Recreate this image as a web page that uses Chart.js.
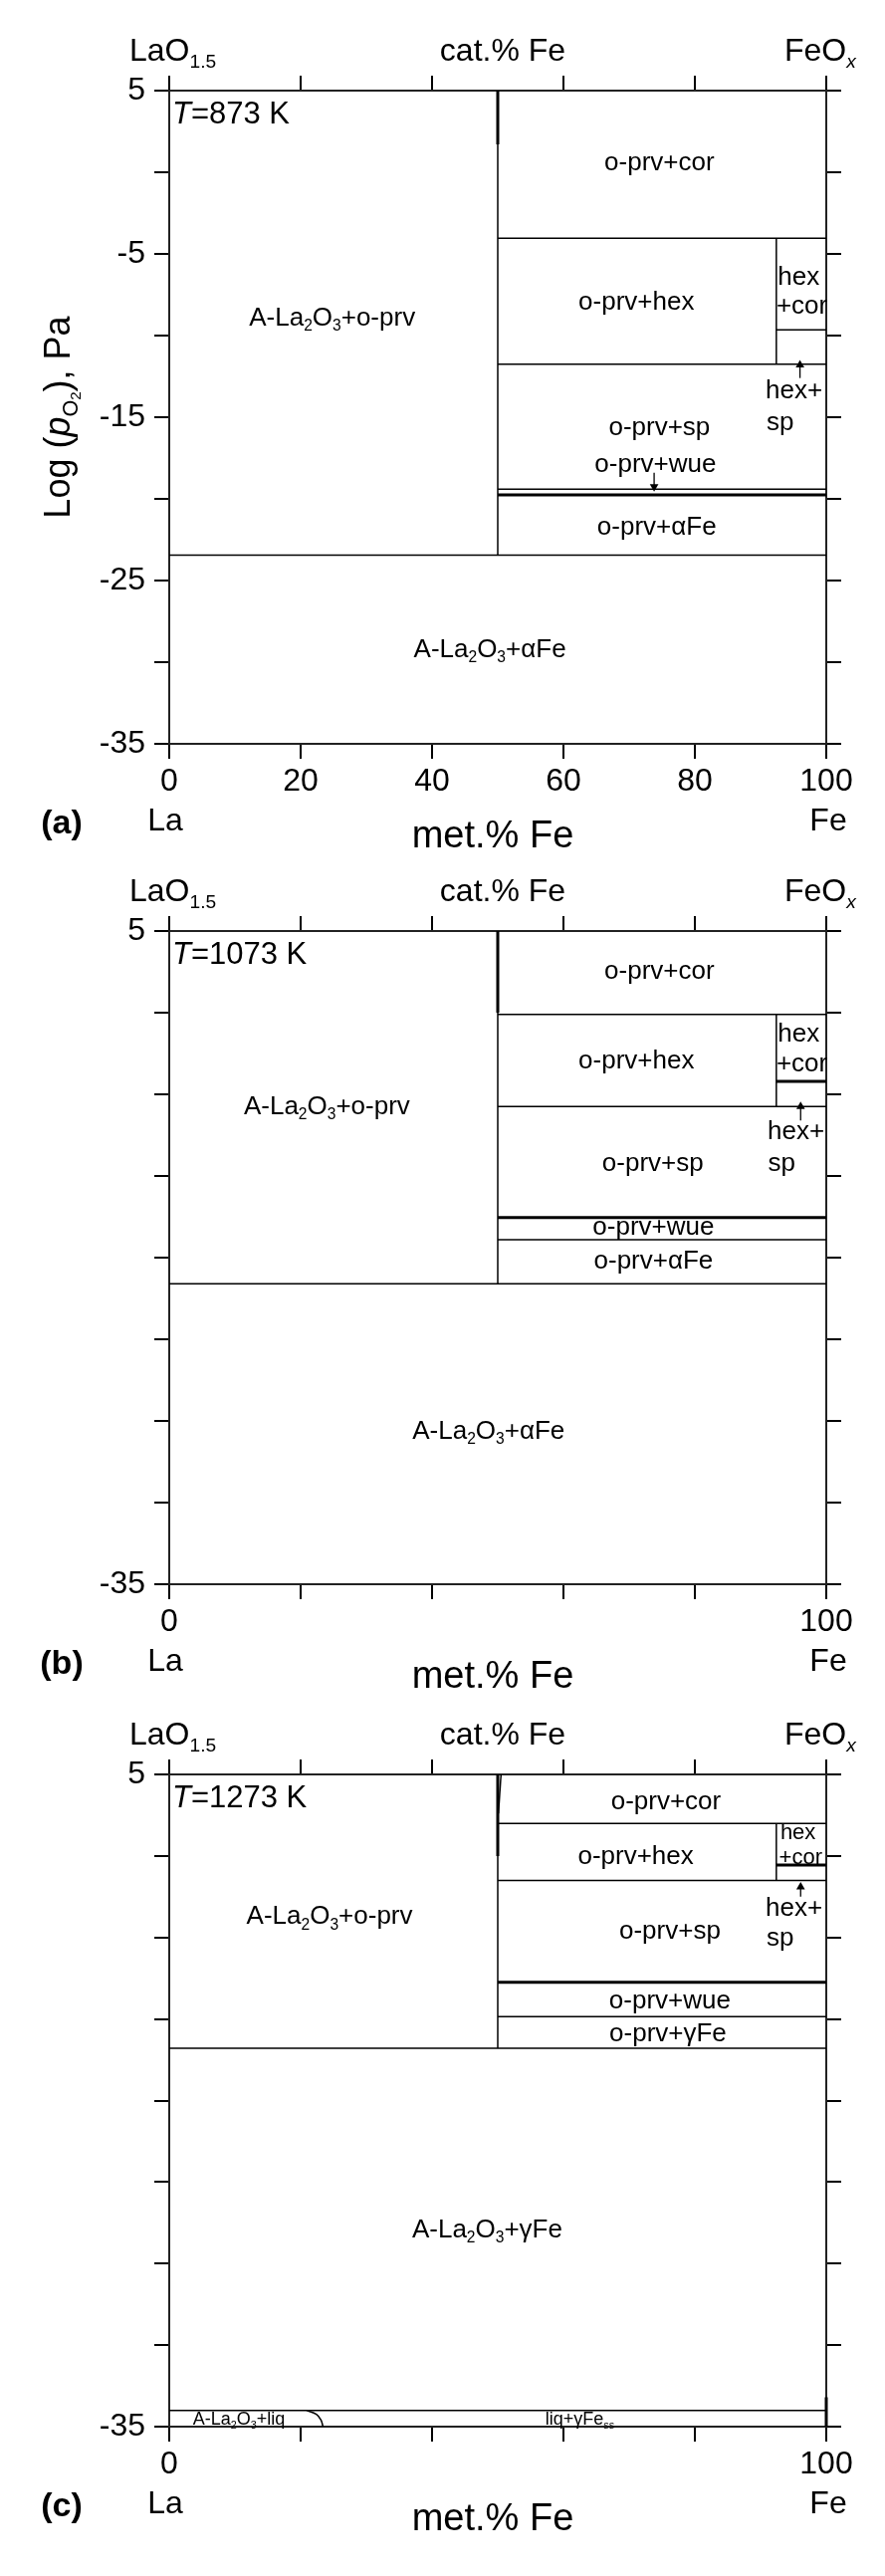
<!DOCTYPE html>
<html lang="en">
<head>
<meta charset="UTF-8">
<title>La-Fe-O isothermal phase diagrams</title>
<script src="https://cdn.jsdelivr.net/npm/chart.js"></script>
<style>
  html, body { margin: 0; padding: 0; background: #fff; }
  body { width: 889px; height: 2587px; position: relative; overflow: hidden; }
  canvas { position: absolute; left: 0; }
</style>
</head>
<body>
<canvas id="chartA" width="889" height="862" style="top:0px"></canvas>
<canvas id="chartB" width="889" height="846" style="top:862px"></canvas>
<canvas id="chartC" width="889" height="879" style="top:1708px"></canvas>
<script>
// axes
const xTicks = [0, 20, 40, 60, 80, 100];
const yTicks = [5, 0, -5, -10, -15, -20, -25, -30, -35];
const xLabeledA = [0, 20, 40, 60, 80, 100];
const xLabeledBC = [0, 100];
const yLabeledA = [5, -5, -15, -25, -35];
const yLabeledBC = [5, -35];
const temps = ['873', '1073', '1273'];

// phase boundaries, [met.% Fe, log pO2] pairs
const thinA = [
  [[50, 5], [50, -23.45]],
  [[50, -4.04], [100, -4.04]],
  [[92.4, -4.04], [92.4, -11.75]],
  [[92.4, -9.65], [100, -9.65]],
  [[50, -11.75], [100, -11.75]],
  [[50, -19.4], [100, -19.4]],
  [[0, -23.45], [100, -23.45]]
];
const thickA = [
  [[50, 5], [50, 1.7]],
  [[50, -19.75], [100, -19.75]]
];
const arrowsA = [[96, -12.6, -11.5], [73.8, -18.4, -19.55]];

const thinB = [
  [[50, 5], [50, -16.6]],
  [[50, -0.1], [100, -0.1]],
  [[92.4, -0.1], [92.4, -5.75]],
  [[50, -5.75], [100, -5.75]],
  [[50, -13.9], [100, -13.9]],
  [[0, -16.6], [100, -16.6]]
];
const thickB = [
  [[50, 5], [50, 0]],
  [[92.4, -4.2], [100, -4.2]],
  [[50, -12.55], [100, -12.55]]
];
const arrowsB = [[96.1, -6.6, -5.45]];

const thinC = [
  [[50, 5], [50, -11.8]],
  [[50.5, 5], [50.1, 2.6]],
  [[50, 2.0], [100, 2.0]],
  [[92.4, 2.0], [92.4, -1.5]],
  [[50, -1.5], [100, -1.5]],
  [[50, -9.85], [100, -9.85]],
  [[0, -11.8], [100, -11.8]],
  [[0, -34], [100, -34]]
];
const thickC = [
  [[50, 5], [50, 0]],
  [[92.4, -0.55], [100, -0.55]],
  [[50, -7.75], [100, -7.75]],
  [[100, -33.2], [100, -35]]
];
const curveC = [[20.9, -34], [22.4, -34.25], [23.1, -34.6], [23.4, -35]];
const arrowsC = [[96.1, -2.5, -1.6]];

// field names [text, met.% Fe, log pO2]
const fieldsA = [
  ['A-La_2O_3+o-prv', 24.8, -8.8],
  ['o-prv+cor', 74.6, 0.67],
  ['o-prv+hex', 71.1, -7.87],
  ['hex', 95.8, -6.3],
  ['+cor', 96.3, -8.07],
  ['hex+', 95.1, -13.25],
  ['sp', 93, -15.2],
  ['o-prv+sp', 74.6, -15.5],
  ['o-prv+wue', 74, -17.8],
  ['o-prv+αFe', 74.2, -21.6],
  ['A-La_2O_3+αFe', 48.8, -29.1]
];
const fieldsB = [
  ['A-La_2O_3+o-prv', 24, -5.63],
  ['o-prv+cor', 74.6, 2.66],
  ['o-prv+hex', 71.1, -2.82],
  ['hex', 95.8, -1.2],
  ['+cor', 96.3, -3.03],
  ['hex+', 95.4, -7.2],
  ['sp', 93.2, -9.1],
  ['o-prv+sp', 73.6, -9.13],
  ['o-prv+wue', 73.7, -13.03],
  ['o-prv+αFe', 73.7, -15.1],
  ['A-La_2O_3+αFe', 48.6, -25.5]
];
const fieldsC = [
  ['A-La_2O_3+o-prv', 24.4, -3.6],
  ['o-prv+cor', 75.6, 3.44],
  ['o-prv+hex', 71, 0.09],
  ['hex+', 95.1, -3.1],
  ['sp', 93, -4.95],
  ['o-prv+sp', 76.2, -4.5],
  ['o-prv+wue', 76.2, -8.75],
  ['o-prv+γFe', 75.9, -10.78],
  ['A-La_2O_3+γFe', 48.4, -22.8]
];
const smallFieldsC = [
  ['hex', 95.7, 1.49, 22],
  ['+cor', 96.1, -0.02, 22],
  ['A-La_2O_3+liq', 10.6, -34.5, 18],
  ['liq+γFe_{ss}', 62.5, -34.5, 18]
];

const FONT = '"Liberation Sans", Arial, Helvetica, sans-serif';
Chart.defaults.font.family = FONT;
Chart.defaults.color = '#000';

// tiny markup: _x or _{..} = subscript, *..* = italic
function parseRich(s) {
  const out = [];
  let it = false, i = 0;
  const push = (t, sub, ital) => {
    const last = out[out.length - 1];
    if (last && last.sub === sub && last.it === ital) last.t += t;
    else out.push({ t, sub, it: ital });
  };
  while (i < s.length) {
    const c = s[i];
    if (c === '*') { it = !it; i++; continue; }
    if (c === '_') {
      let t;
      if (s[i + 1] === '{') { const j = s.indexOf('}', i); t = s.slice(i + 2, j); i = j + 1; }
      else { t = s[i + 1]; i += 2; }
      let sit = it;
      for (const ch of t) { if (ch === '*') { sit = !sit; continue; } push(ch, true, sit); }
      continue;
    }
    push(c, false, it);
    i++;
  }
  return out.map(p => ({ t: p.t, it: p.it, scale: p.sub ? 0.6 : 1, dy: p.sub ? 0.22 : 0 }));
}

function fontStr(size, it, bold) {
  return (it ? 'italic ' : '') + (bold ? 'bold ' : '') + size.toFixed(1) + 'px ' + FONT;
}

// y is the middle of the capital letters
function drawSegs(ctx, segs, x, y, size, align, bold) {
  let w = 0;
  segs.forEach(s => { ctx.font = fontStr(size * s.scale, s.it, bold); s.w = ctx.measureText(s.t).width; w += s.w; });
  let cx = align === 'center' ? x - w / 2 : x;
  const base = y + size * 0.36;
  ctx.textAlign = 'left';
  ctx.textBaseline = 'alphabetic';
  segs.forEach(s => {
    ctx.font = fontStr(size * s.scale, s.it, bold);
    ctx.fillText(s.t, cx, base + size * s.dy);
    cx += s.w;
  });
}
function drawRich(ctx, str, x, y, size, align, bold) {
  drawSegs(ctx, parseRich(str), x, y, size, align || 'center', bold);
}

function makeTextPlugin(p) {
  return {
    id: 'phaseText' + p.tag,
    afterDatasetsDraw(chart) {
      const ctx = chart.ctx, ca = chart.chartArea;
      const xs = chart.scales.x, ys = chart.scales.y;
      ctx.save();
      ctx.fillStyle = '#000';
      p.fields.forEach(f => drawRich(ctx, f[0], xs.getPixelForValue(f[1]), ys.getPixelForValue(f[2]), 26));
      p.small.forEach(f => drawRich(ctx, f[0], xs.getPixelForValue(f[1]), ys.getPixelForValue(f[2]), f[3]));
      drawRich(ctx, '*T*=' + p.temp + ' K', ca.left + 3, ca.top + 22, 31, 'left');

      // composition labels
      drawRich(ctx, 'LaO_{1.5}', ca.left - 40, ca.top - 42, 32, 'left');
      drawRich(ctx, 'cat.% Fe', ca.left + 335, ca.top - 42, 32);
      drawRich(ctx, 'FeO_{*x*}', ca.right - 42, ca.top - 42, 32, 'left');
      drawRich(ctx, 'La', ca.left - 4, ca.bottom + 75, 32);
      drawRich(ctx, 'Fe', ca.right + 2, ca.bottom + 75, 32);
      drawRich(ctx, 'met.% Fe', ca.left + 325, ca.bottom + 90, 38);
      drawRich(ctx, p.tag, 62, ca.bottom + 78, 34, 'center', true);

      if (p.yTitle) {
        ctx.translate(57, (ca.top + ca.bottom) / 2);
        ctx.rotate(-Math.PI / 2);
        drawSegs(ctx, [
          { t: 'Log (', it: false, scale: 1, dy: 0 },
          { t: 'p', it: true, scale: 1, dy: 0 },
          { t: 'O', it: false, scale: 0.6, dy: 0.22 },
          { t: '2', it: false, scale: 0.42, dy: 0.32 },
          { t: '), Pa', it: false, scale: 1, dy: 0 }
        ], 0, 0, 36, 'center');
      }
      ctx.restore();
    }
  };
}

function segDataset(seg, width, tension) {
  return {
    data: seg.map(q => ({ x: q[0], y: q[1] })),
    borderColor: '#000', borderWidth: width, pointRadius: 0,
    showLine: true, fill: false, tension: tension || 0, clip: 6
  };
}
function arrowDataset(a) {
  const dir = a[2] > a[1] ? 1 : -1;
  return {
    data: [{ x: a[0], y: a[1] }, { x: a[0], y: a[2] - dir * 0.3 }],
    borderColor: '#000', borderWidth: 1.3, showLine: true, fill: false,
    pointRadius: [0, 5], pointStyle: 'triangle', pointRotation: dir > 0 ? 0 : 180,
    pointBackgroundColor: '#000', pointBorderColor: '#000', pointBorderWidth: 0
  };
}

function axis(pos, isX, labeled, size) {
  const horiz = pos === 'top' || pos === 'bottom';
  return {
    type: 'linear', position: pos,
    min: isX ? 0 : -35, max: isX ? 100 : 5,
    afterBuildTicks: s => { s.ticks = (isX ? xTicks : yTicks).map(v => ({ value: v })); },
    afterFit: s => { if (horiz) s.height = size; else s.width = size; },
    ticks: {
      autoSkip: false, maxRotation: 0, color: '#000',
      font: { size: 32 }, padding: isX ? 4 : 9,
      callback: v => labeled.includes(v) ? String(v) : ''
    },
    grid: { drawOnChartArea: false, drawTicks: true, tickLength: 15, color: '#000', lineWidth: 2 },
    border: { display: true, color: '#222', width: 2 }
  };
}

const panels = [
  { id: 'chartA', tag: '(a)', temp: temps[0], thin: thinA, thick: thickA, curve: null, arrows: arrowsA,
    fields: fieldsA, small: [], xLab: xLabeledA, yLab: yLabeledA, top: 91, bottom: 115, yTitle: true },
  { id: 'chartB', tag: '(b)', temp: temps[1], thin: thinB, thick: thickB, curve: null, arrows: arrowsB,
    fields: fieldsB, small: [], xLab: xLabeledBC, yLab: yLabeledBC, top: 73, bottom: 117, yTitle: false },
  { id: 'chartC', tag: '(c)', temp: temps[2], thin: thinC, thick: thickC, curve: curveC, arrows: arrowsC,
    fields: fieldsC, small: smallFieldsC, xLab: xLabeledBC, yLab: yLabeledBC, top: 74, bottom: 150, yTitle: false }
];

panels.forEach(p => {
  const datasets = []
    .concat(p.thin.map(s => segDataset(s, 1.5)))
    .concat(p.thick.map(s => segDataset(s, 3)))
    .concat(p.arrows.map(arrowDataset));
  if (p.curve) datasets.push(segDataset(p.curve, 1.5, 0.4));

  new Chart(document.getElementById(p.id), {
    type: 'line',
    data: { datasets },
    options: {
      responsive: false, animation: false, devicePixelRatio: 1, events: [],
      layout: { padding: 0 },
      plugins: { legend: { display: false }, tooltip: { enabled: false } },
      scales: {
        x: axis('bottom', true, p.xLab, p.bottom),
        x2: axis('top', true, [], p.top),
        y: axis('left', false, p.yLab, 170),
        y2: axis('right', false, [], 59)
      }
    },
    plugins: [makeTextPlugin(p)]
  });
});
</script>
</body>
</html>
